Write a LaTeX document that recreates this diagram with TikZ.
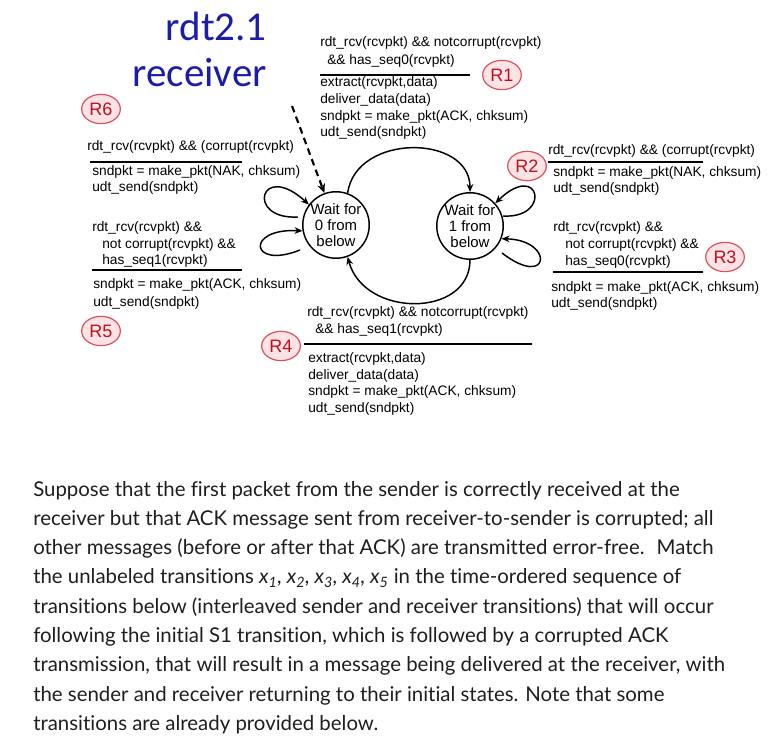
\documentclass[tikz,border=0pt]{standalone}
\usepackage{fontspec}
\setmainfont{Liberation Sans}
\newfontfamily\titlefont{Carlito}
\newfontfamily\parafont[Ligatures=NoCommon]{Lato}
\usetikzlibrary{arrows.meta,shapes.geometric}
\definecolor{titleblue}{RGB}{28,28,170}
\definecolor{rfill}{RGB}{252,228,230}
\definecolor{rdraw}{RGB}{222,80,92}
\definecolor{rtext}{RGB}{190,16,28}
\definecolor{paratext}{RGB}{30,30,30}
\begin{document}
\begin{tikzpicture}[x=0.75pt,y=-0.75pt,
  tr/.style={anchor=base west,inner sep=0pt,font=\fontsize{10.3pt}{12pt}\selectfont},
  rulebar/.style={line width=1.5pt},
  rlabel/.style={ellipse,draw=rdraw,fill=rfill,line width=0.9pt,minimum width=29pt,minimum height=22pt,inner sep=0pt,text=rtext,font=\fontsize{13.5pt}{15pt}\selectfont},
  state/.style={circle,draw,line width=1.1pt,minimum size=47pt,inner sep=0pt,align=center,font=\fontsize{11.2pt}{12pt}\selectfont},
  arr/.style={line width=1.1pt,-{Stealth[length=6pt,width=5pt]}},
  para/.style={anchor=base west,inner sep=0pt,text=paratext,font=\parafont\fontsize{15.3pt}{18pt}\selectfont}
]
\useasboundingbox (0,0) rectangle (772,756);
% title
\node[anchor=base east,inner sep=0pt,text=titleblue,font=\titlefont\fontsize{30.75pt}{36pt}\selectfont] (t1) at (267,41) {rdt2.1};
\node[anchor=base east,inner sep=0pt,text=titleblue,font=\titlefont\fontsize{30.75pt}{36pt}\selectfont] (t2) at (267,87) {receiver};
% states
\node[state] (s0) at (336,225) {Wait for\\0 from\\below};
\node[state] (s1) at (470,226) {Wait for\\1 from\\below};
% transitions between states
\draw[arr] (s0.70) .. controls (356,133) and (470,134) .. (s1.north);
\draw[arr] (s1.south) .. controls (470,318) and (364,318) .. (s0.-70);
% self loops
\coordinate (l0a) at (298,217);
\draw[arr] (l0a) .. controls (245,220) and (260,160) .. (s0.143);
\coordinate (l0b) at (300,250);
\draw[arr] (l0b) .. controls (250,270) and (245,228) .. (s0.190);
\coordinate (l1a) at (503,216);
\draw[arr] (l1a) .. controls (552,219) and (540,160) .. (s1.42);
\coordinate (l1b) at (502,253);
\draw[arr] (l1b) .. controls (550,290) and (555,240) .. (s1.-22);
% initial arrow
\coordinate (init) at (292,106);
\draw[line width=1.6pt,dash pattern=on 5pt off 3.5pt,-{Stealth[length=7pt,width=6pt]}] (init) -- (s0.110);
% R labels
\node[rlabel] (r1) at (502,75) {R1};
\node[rlabel] (r6) at (101,109) {R6};
\node[rlabel] (r2) at (527,166) {R2};
\node[rlabel] (r3) at (725,257) {R3};
\node[rlabel] (r5) at (101,331) {R5};
\node[rlabel] (r4) at (281,346) {R4};
% R1 block
\node[tr] (a1) at (320,47) {rdt\_rcv(rcvpkt) \&\& notcorrupt(rcvpkt)};
\node[tr] (a2) at (327,65) {\&\& has\_seq0(rcvpkt)};
\draw[rulebar] (320,75) -- (470,75);
\node[tr] (a3) at (320,87) {extract(rcvpkt,data)};
\node[tr] (a4) at (320,104) {deliver\_data(data)};
\node[tr] (a5) at (320,121) {sndpkt = make\_pkt(ACK, chksum)};
\node[tr] (a6) at (320,137) {udt\_send(sndpkt)};
% R6 block
\node[tr] (b1) at (87,151) {rdt\_rcv(rcvpkt) \&\& (corrupt(rcvpkt)};
\draw[rulebar] (90,162) -- (242,162);
\node[tr] (b2) at (92,176) {sndpkt = make\_pkt(NAK, chksum)};
\node[tr] (b3) at (92,192) {udt\_send(sndpkt)};
% R2 block
\node[tr] (c1) at (548,155) {rdt\_rcv(rcvpkt) \&\& (corrupt(rcvpkt)};
\draw[rulebar] (548,162) -- (703,162);
\node[tr] (c2) at (553,177) {sndpkt = make\_pkt(NAK, chksum)};
\node[tr] (c3) at (553,193) {udt\_send(sndpkt)};
% R3 block
\node[tr] (d1) at (553,232) {rdt\_rcv(rcvpkt) \&\&};
\node[tr] (d2) at (565,249) {not corrupt(rcvpkt) \&\&};
\node[tr] (d3) at (565,266) {has\_seq0(rcvpkt)};
\draw[rulebar] (553,272) -- (703,272);
\node[tr] (d4) at (551,292) {sndpkt = make\_pkt(ACK, chksum)};
\node[tr] (d5) at (551,308) {udt\_send(sndpkt)};
% R5 block
\node[tr] (e1) at (92,232) {rdt\_rcv(rcvpkt) \&\&};
\node[tr] (e2) at (102,249) {not corrupt(rcvpkt) \&\&};
\node[tr] (e3) at (102,265) {has\_seq1(rcvpkt)};
\draw[rulebar] (92,270) -- (242,270);
\node[tr] (e4) at (93,289) {sndpkt = make\_pkt(ACK, chksum)};
\node[tr] (e5) at (93,306) {udt\_send(sndpkt)};
% R4 block
\node[tr] (f1) at (307,317) {rdt\_rcv(rcvpkt) \&\& notcorrupt(rcvpkt)};
\node[tr] (f2) at (315,334) {\&\& has\_seq1(rcvpkt)};
\draw[rulebar] (304,344) -- (532,344);
\node[tr] (f3) at (308,363) {extract(rcvpkt,data)};
\node[tr] (f4) at (308,379) {deliver\_data(data)};
\node[tr] (f5) at (308,396) {sndpkt = make\_pkt(ACK, chksum)};
\node[tr] (f6) at (308,412) {udt\_send(sndpkt)};
% paragraph
\node[para] (p1) at (33,496) {Suppose that the first packet from the sender is correctly received at the};
\node[para] (p2) at (33,525.3) {receiver but that ACK message sent from receiver-to-sender is corrupted; all};
\node[para] (p3) at (33,554.6) {other messages (before or after that ACK) are transmitted error-free.~ Match};
\node[para] (p4) at (33,583.9) {the unlabeled transitions {\itshape x\textsubscript{1}, x\textsubscript{2}, x\textsubscript{3}, x\textsubscript{4}, x\textsubscript{5}} in the time-ordered sequence of};
\node[para] (p5) at (33,613.2) {transitions below (interleaved sender and receiver transitions) that will occur};
\node[para] (p6) at (33,642.5) {following the initial S1 transition, which is followed by a corrupted ACK};
\node[para] (p7) at (33,671.8) {transmission, that will result in a message being delivered at the receiver, with};
\node[para] (p8) at (33,701.1) {the sender and receiver returning to their initial states. Note that some};
\node[para] (p9) at (33,730.4) {transitions are already provided below.};
\end{tikzpicture}
\end{document}
